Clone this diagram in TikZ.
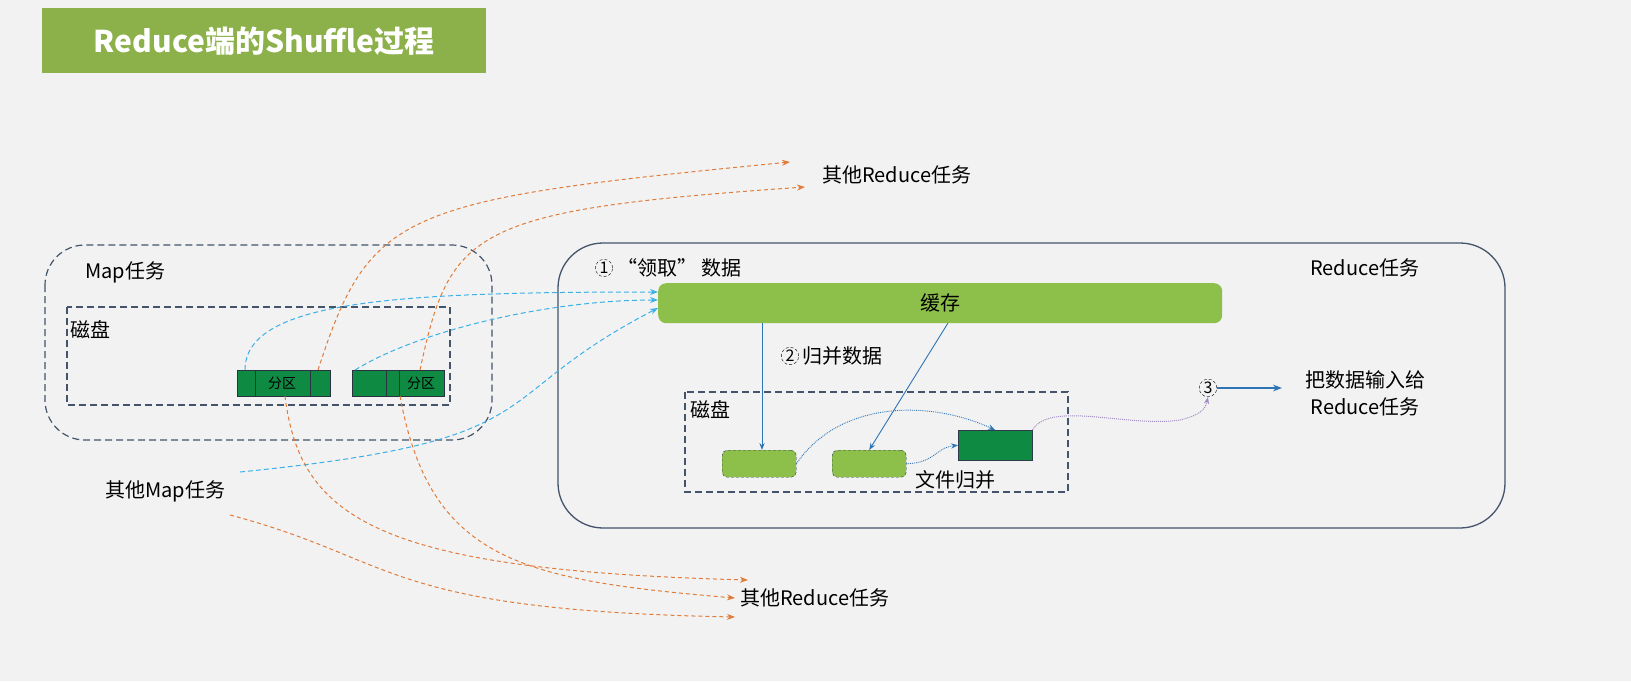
\documentclass[tikz,border=0pt]{standalone}
\usepackage{fontspec}
\setmainfont{Noto Sans CJK SC}
\usetikzlibrary{arrows.meta}
\definecolor{bg}{HTML}{F2F2F2}
\definecolor{frame}{HTML}{44546A}
\definecolor{ttl}{HTML}{8CB04A}
\definecolor{cache}{HTML}{8DC04A}
\definecolor{dgreen}{HTML}{0E8A43}
\definecolor{ablue}{HTML}{2E75B6}
\definecolor{lblue}{HTML}{3BB0E8}
\definecolor{orng}{HTML}{E07B39}
\definecolor{purp}{HTML}{A08CC0}
\tikzset{
 lbl/.style={font=\fontsize{20}{22}\selectfont, inner sep=0pt, anchor=west},
 dbox/.style={draw=frame, dashed, line width=1.2pt, dash pattern=on 7pt off 4pt},
 part/.style={draw=frame!60!black, fill=dgreen, line width=0.6pt},
 ob/.style={orng, line width=1pt, dash pattern=on 4pt off 3pt, -{Stealth[length=8pt]}},
 bl/.style={lblue, line width=1pt, dash pattern=on 5pt off 3pt, -{Stealth[length=8pt]}},
 sb/.style={ablue, line width=0.9pt, -{Stealth[length=7pt]}},
 circ/.style={circle, draw, densely dashed, inner sep=1pt, font=\fontsize{16}{18}\selectfont},
}
\begin{document}
\begin{tikzpicture}[x=1pt,y=-1pt]
\fill[bg] (0,0) rectangle (1631,681);
\useasboundingbox (0,0) rectangle (1631,681);
% title
\node[fill=ttl, minimum width=444pt, minimum height=65pt, anchor=north west, text=white, font=\fontsize{30}{34}\selectfont\bfseries] (title) at (42,8) {Reduce端的Shuffle过程};
% map box
\draw[dbox, rounded corners=40pt] (45,245) rectangle (492,440);
\node[lbl] (maplbl) at (85,272) {Map任务};
\draw[dbox] (67,307) rectangle (450,405);
\node[lbl] (disk1) at (70,330) {磁盘};
\node[part, minimum width=93pt, minimum height=26pt, anchor=north west] (p1) at (237,370) {};
\draw[frame!60!black] (255,370) -- (255,396) (310,370) -- (310,396);
\node[font=\fontsize{14}{16}\selectfont] at (282,383) {分区};
\node[part, minimum width=92pt, minimum height=26pt, anchor=north west] (p2) at (352,370) {};
\draw[frame!60!black] (386,370) -- (386,396) (399,370) -- (399,396);
\node[font=\fontsize{14}{16}\selectfont] at (421,383) {分区};
\node[lbl] (omap) at (105,491) {其他Map任务};
% reduce box
\draw[frame, line width=1.3pt, rounded corners=45pt] (558,243) rectangle (1505,528);
\node[circ] (c1) at (604,268) {1};
\node[lbl] (fetch) at (617,268) {“领取” 数据};
\node[lbl] (redlbl) at (1310,268) {Reduce任务};
\node[fill=cache, rounded corners=8pt, minimum width=564pt, minimum height=40pt, anchor=north west, font=\fontsize{20}{22}\selectfont] (cache) at (658,283) {缓存};
\node[circ] (c2) at (790,356) {2};
\node[lbl] (merge) at (802,356) {归并数据};
\draw[dbox] (685,392) rectangle (1068,492);
\node[lbl] (disk2) at (690,410) {磁盘};
\node[draw=frame!70!black, densely dashed, fill=cache, rounded corners=5pt, minimum width=74pt, minimum height=27pt, anchor=north west] (s1) at (722,450) {};
\node[draw=frame!70!black, densely dashed, fill=cache, rounded corners=5pt, minimum width=74pt, minimum height=27pt, anchor=north west] (s2) at (832,450) {};
\node[draw=frame!70!black, fill=dgreen, minimum width=74pt, minimum height=30pt, anchor=north west] (big) at (958,430) {};
\node[lbl] (fm) at (915,480) {文件归并};
\coordinate (ca) at (762,323);
\coordinate (cb) at (948,323);
\draw[sb] (ca) -- (s1.north-|ca);
\draw[sb] (cb) -- (s2.north);
\draw[ablue, line width=0.9pt, densely dotted, -{Stealth[length=7pt]}] (s1.east) .. controls (840,400) and (930,400) .. (big.north);
\draw[ablue, line width=0.9pt, densely dotted, -{Stealth[length=7pt]}] (s2.east) .. controls (935,463) and (935,448) .. (big.west);
\node[circ] (c3) at (1208,388) {3};
\draw[purp, line width=1pt, densely dotted, -{Stealth[length=7pt]}] (big.north east) .. controls (1050,400) and (1130,428) .. (1180,420) .. controls (1200,415) and (1205,410) .. (c3.south);
\draw[ablue, line width=1.6pt, -{Stealth[length=9pt]}] (c3.east) -- (1282,388);
\node[align=center, font=\fontsize{20}{27}\selectfont] (inp) at (1365,393) {把数据输入给\\Reduce任务};
% blue dashed fetch arrows
\draw[bl] (245,370) .. controls (245,300) and (400,292) .. (cache.west|-0,292);
\draw[bl] (355,370) .. controls (420,330) and (550,300) .. (cache.west|-0,300);
\draw[bl] (240,472) .. controls (560,440) and (480,400) .. (cache.west|-0,308);
% orange dashed
\node[lbl] (ored1) at (822,175) {其他Reduce任务};
\node[lbl] (ored2) at (740,598) {其他Reduce任务};
\draw[ob] (318,370) .. controls (370,210) and (400,200) .. (790,162);
\draw[ob] (420,370) .. controls (450,230) and (470,210) .. (805,187);
\draw[ob] (285,396) .. controls (300,520) and (380,570) .. (748,580);
\draw[ob] (400,396) .. controls (430,560) and (520,580) .. (735,598);
\draw[ob] (230,515) .. controls (400,560) and (380,610) .. (735,617);
\end{tikzpicture}
\end{document}
